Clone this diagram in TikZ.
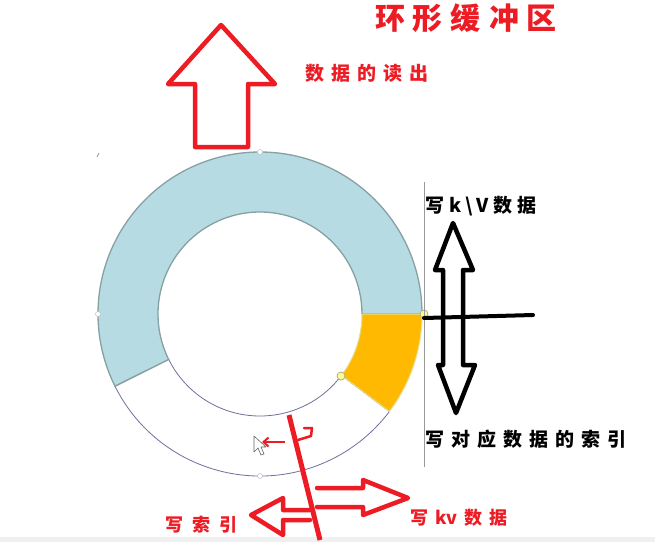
\documentclass[tikz,border=0pt]{standalone}
\usepackage{fontspec}
\newfontfamily\cjk{Noto Sans CJK SC}
\usetikzlibrary{calc,arrows.meta}
\definecolor{myred}{HTML}{ED1C24}
\definecolor{ringblue}{HTML}{B7DBE2}
\definecolor{ringbluedraw}{HTML}{86A0A4}
\definecolor{ringyellow}{HTML}{FFB900}
\definecolor{ringline}{HTML}{6F6FA0}
\tikzset{
  redarrow/.style={draw=myred, line width=4.5pt, line join=round, line cap=round},
  blackarrow/.style={draw=black, line width=4.5pt, line join=round, line cap=round},
  redtext/.style={text=myred, font=\cjk\bfseries, inner sep=0pt},
  blacktext/.style={text=black, font=\cjk\bfseries, inner sep=0pt},
  handle/.style={circle, fill=white, draw=gray!50, line width=0.5pt, inner sep=0pt, minimum size=5pt},
  ydot/.style={circle, fill=yellow!40!white, draw=gray!70!yellow, line width=0.8pt, inner sep=0pt, minimum size=8pt}
}
\begin{document}
\begin{tikzpicture}[x=1pt,y=-1pt]
\useasboundingbox (0,0) rectangle (655,542);
\fill[white] (0,0) rectangle (655,542);
\fill[black!6] (0,537) rectangle (655,542);
\coordinate (c) at (260,314);
% ring segments
\fill[ringblue, draw=ringbluedraw, line width=1.3pt]
  ($(c)+(0:162pt)$) arc[start angle=0,end angle=206.5,radius=162pt]
  -- ($(c)+(206.5:102pt)$) arc[start angle=206.5,end angle=0,radius=102pt] -- cycle;
\draw[ringline, line width=0.8pt, fill=white]
  ($(c)+(206.5:162pt)$) arc[start angle=206.5,end angle=323,radius=162pt]
  -- ($(c)+(323:102pt)$) arc[start angle=323,end angle=206.5,radius=102pt];
\fill[ringyellow, draw=gray!40!yellow!60!white, line width=1pt]
  ($(c)+(323:162pt)$) arc[start angle=323,end angle=360,radius=162pt]
  -- ($(c)+(0:102pt)$) arc[start angle=360,end angle=323,radius=102pt] -- cycle;
\draw[ringbluedraw, line width=1.3pt] ($(c)+(206.5:102pt)$) -- ($(c)+(206.5:162pt)$);
% handles
\node[handle] (h1) at (260,152) {};
\node[handle] (h2) at (98,314) {};
\node[handle] (h3) at (260,476) {};
\draw[gray!70, line width=1pt] (97,157) -- (99,153);
\node[ydot] (y1) at (424,314) {};
\node[ydot] (y2) at (341,376) {};
% vertical gray line
\coordinate (vt) at (424,182);
\coordinate (vb) at (424,467);
\draw[gray!80, line width=0.8pt] (vt) -- (vb);
% black double arrow
\draw[blackarrow] (453,223) -- (473,270) -- (463,270) -- (463,365) -- (475,365) -- (456,413)
  -- (438,365) -- (443,365) -- (443,270) -- (435,270) -- cycle;
\coordinate (hl) at (424,318);
\coordinate (hr) at (533,315);
\draw[black, line width=4pt, line cap=round] (hl) -- (hr);
% red up arrow
\draw[redarrow] (221,25) -- (275,84) -- (248,84) -- (248,147) -- (195,147) -- (195,84) -- (168,84) -- cycle;
% red slanted line
\coordinate (st) at (289,415);
\coordinate (sb) at (320,540);
\draw[myred, line width=5pt] (st) -- (sb);
% red right arrow
\draw[redarrow] (317,488) -- (363,488) -- (363,480) -- (408,498) -- (363,515) -- (363,507) -- (317,507);
% red left arrow
\draw[redarrow] (310,510) -- (283,510) -- (283,498) -- (251,515) -- (283,535) -- (283,520) -- (310,520);
% small red arrow and hook
\coordinate (sa1) at (285,442);
\coordinate (sa2) at (262,442);
\draw[myred, line width=2pt, -{Straight Barb[length=5pt,width=9pt]}] (sa1) -- (sa2);
\draw[myred, line width=2.5pt, line join=round, line cap=round]
  (304,428) -- (312,428) -- (311,436) -- (298,440);
% cursor
\draw[gray!80!black, fill=white, line width=0.6pt, line join=round]
  (254,436) -- (254,452) -- (258,448) -- (261,455) -- (264,454) -- (261,447) -- (266,447) -- cycle;
% texts
\node[redtext, font=\cjk\bfseries\fontsize{30}{30}\selectfont] (title) at (466,18)
  {环\kern8pt形\kern8pt缓\kern8pt冲\kern8pt区};
\node[redtext, font=\cjk\bfseries\fontsize{19}{19}\selectfont] (read) at (367,73)
  {数\kern7pt据\kern7pt的\kern7pt读\kern7pt出};
\node[blacktext, anchor=west, font=\cjk\bfseries\fontsize{19}{19}\selectfont] (kv) at (425,206)
  {写\kern5pt k\kern4pt\textbackslash\kern4pt V\kern5pt 数\kern5pt 据};
\node[blacktext, anchor=west, font=\cjk\bfseries\fontsize{19}{19}\selectfont] (idx) at (425,439)
  {写\kern7pt对\kern7pt应\kern7pt数\kern7pt据\kern7pt的\kern7pt索\kern7pt引};
\node[redtext, anchor=west, font=\cjk\bfseries\fontsize{18}{18}\selectfont] (wi) at (165,525)
  {写\kern9pt索\kern9pt引};
\node[redtext, anchor=west, font=\cjk\bfseries\fontsize{18}{18}\selectfont] (wkv) at (410,518)
  {写\kern7pt kv\kern7pt 数\kern7pt 据};
\end{tikzpicture}
\end{document}
